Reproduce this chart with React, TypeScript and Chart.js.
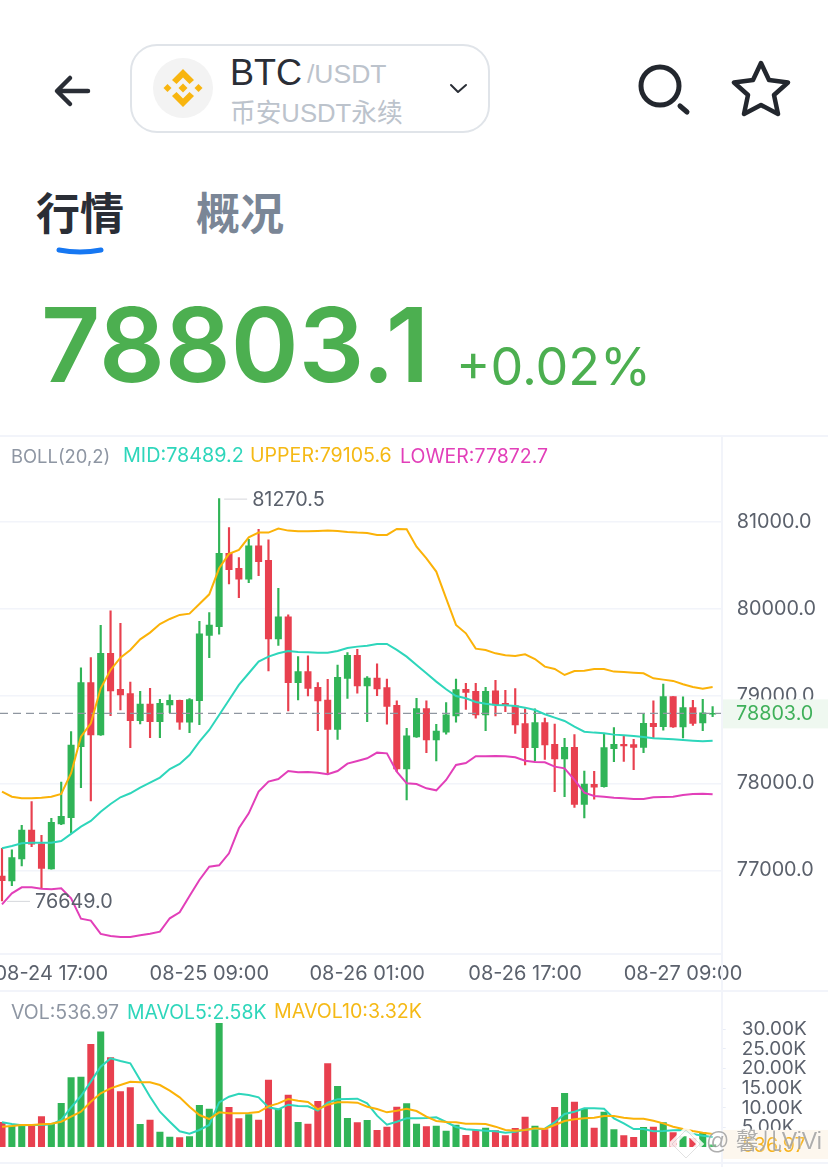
import React, { useEffect, useRef } from "react";
import { Chart, registerables } from "chart.js";

Chart.register(...registerables);

const FONT = "Inter,'Noto Sans CJK SC',sans-serif";
const CJK = "'Liberation Sans','Noto Sans CJK SC',sans-serif";
const UP = "#30b457";
const DOWN = "#e8404f";
const TEAL = "#2ed6bb";
const ORANGE = "#fbb208";
const MAGENTA = "#e23fb9";
const GRID = "#f2f4fa";
const AXIS_TEXT = "#5b616c";

const hourLabels = [
  "08-24 12:00","08-24 13:00","08-24 14:00","08-24 15:00","08-24 16:00","08-24 17:00","08-24 18:00","08-24 19:00","08-24 20:00","08-24 21:00","08-24 22:00","08-24 23:00",
  "08-25 00:00","08-25 01:00","08-25 02:00","08-25 03:00","08-25 04:00","08-25 05:00","08-25 06:00","08-25 07:00","08-25 08:00","08-25 09:00","08-25 10:00","08-25 11:00",
  "08-25 12:00","08-25 13:00","08-25 14:00","08-25 15:00","08-25 16:00","08-25 17:00","08-25 18:00","08-25 19:00","08-25 20:00","08-25 21:00","08-25 22:00","08-25 23:00",
  "08-26 00:00","08-26 01:00","08-26 02:00","08-26 03:00","08-26 04:00","08-26 05:00","08-26 06:00","08-26 07:00","08-26 08:00","08-26 09:00","08-26 10:00","08-26 11:00",
  "08-26 12:00","08-26 13:00","08-26 14:00","08-26 15:00","08-26 16:00","08-26 17:00","08-26 18:00","08-26 19:00","08-26 20:00","08-26 21:00","08-26 22:00","08-26 23:00",
  "08-27 00:00","08-27 01:00","08-27 02:00","08-27 03:00","08-27 04:00","08-27 05:00","08-27 06:00","08-27 07:00","08-27 08:00","08-27 09:00","08-27 10:00","08-27 11:00","08-27 12:00",
];
const labelledHours = ["08-24 17:00", "08-25 09:00", "08-26 01:00", "08-26 17:00", "08-27 09:00"];

const highs = [77253,77234,77517,77789,77402,77598,78015,78593,79325,79444,79815,79980,79838,79164,79057,79091,78965,79015,78957,78973,79861,79961,81270.5,80937,80593,80803,80918,80796,80240,79934,79455,79463,79156,79195,79359,79501,79539,79225,79371,79198,78946,78632,78976,78946,78678,78927,79198,79149,79149,79103,79183,79068,79087,78854,78854,78750,78681,78517,78559,78141,78138,78567,78639,78544,78505,78804,78946,79141,78995,78992,78953,78965,78881];
const opens = [76935,76878,77130,77463,77303,77015,77532,77605,78421,79156,78555,79493,79080,79030,78720,78911,78708,78900,78953,78701,78950,79700,79800,80642,80470,80344,80727,80562,79658,79911,79156,79283,79103,78957,78620,79206,79470,79118,79210,79099,78896,78164,78532,78858,78498,78586,78773,79080,79057,78785,79061,78919,78892,78685,78410,78697,78448,78279,78413,77758,77988,77961,78398,78448,78444,78413,78689,78651,78995,78647,78869,78693,78795];
const closes = [76881,77146,77463,77299,77023,77552,77621,78440,79156,78555,79493,79061,79015,78720,78911,78708,78919,78953,78701,78961,79716,79819,80642,80455,80344,80727,80547,79658,79911,79156,79283,79091,78946,78620,79218,79470,79118,79210,79084,78884,78164,78544,78858,78498,78601,78785,79076,79045,78785,79057,78900,78892,78670,78410,78697,78440,78279,78413,77758,77992,77954,78410,78448,78429,78413,78689,78651,78995,78647,78869,78689,78808,78803];
const lows = [76649,76824,77050,77272,76793,77012,77525,77433,77950,77797,78550,78777,78842,78410,78681,78524,78524,78812,78620,78582,78674,79444,79712,80290,80133,80305,80386,79290,79585,78831,78957,79003,78605,78115,78505,78976,79034,78708,79007,78678,78134,77808,78528,78352,78256,78563,78701,78850,78747,78605,78773,78823,78574,78210,78256,78275,77904,77846,77724,77601,77816,77954,78249,78252,78157,78352,78524,78609,78643,78521,78666,78605,78766];
const bollUpper = [77904,77846,77827,77827,77835,77846,77877,78115,78536,78689,79091,79302,79444,79532,79654,79731,79830,79888,79934,79949,80060,80171,80470,80635,80681,80826,80880,80880,80926,80903,80895,80895,80899,80903,80899,80888,80880,80876,80853,80853,80922,80918,80719,80585,80432,80125,79819,79723,79547,79532,79493,79470,79463,79482,79428,79340,79313,79244,79290,79294,79313,79313,79283,79279,79271,79264,79206,79191,79176,79137,79107,79087,79105.6];
const bollMid = [77253,77280,77310,77318,77318,77318,77337,77418,77502,77567,77674,77762,77839,77885,77950,78007,78065,78164,78222,78325,78478,78612,78785,78957,79130,79264,79398,79455,79493,79520,79509,79505,79501,79501,79520,79555,79570,79581,79601,79601,79532,79455,79359,79264,79168,79080,79003,78976,78934,78915,78900,78896,78888,78869,78842,78793,78754,78716,78651,78593,78582,78574,78559,78551,78544,78532,78517,78513,78505,78498,78490,78482,78489.2];
const bollLower = [76609,76736,76805,76805,76789,76782,76793,76678,76445,76422,76269,76246,76234,76234,76253,76272,76295,76449,76517,76705,76889,77042,77058,77195,77483,77655,77904,78019,78049,78141,78126,78130,78122,78103,78141,78226,78256,78287,78352,78344,78134,78000,77992,77942,77919,78038,78210,78233,78310,78310,78314,78310,78298,78260,78245,78241,78191,78172,78038,77892,77854,77846,77835,77827,77820,77820,77839,77843,77846,77866,77877,77881,77872.7];
const volumes = [6290,5355,5610,5780,7735,6035,11135,17680,17850,26180,29410,22780,14110,15130,5780,6885,3825,2550,2380,2635,10625,9690,31535,10115,7225,8245,6885,17085,9690,13260,6290,5865,11645,21250,15470,7310,6205,6800,4250,5100,10200,11050,5865,5185,5355,4080,5610,2975,4165,4845,4165,2890,4760,7650,5355,4420,10115,13685,11475,9605,4845,8925,4420,2890,2465,5015,5100,6205,3655,2635,2210,3655,536.97];
const mavol5 = [6290,5865,5525,5610,5610,5780,6885,10115,13005,16660,20485,22610,21930,21335,17085,12835,9010,6460,3995,3400,4335,5610,11390,12835,13600,13260,12665,10115,9605,10795,10455,10370,9265,11305,12155,12240,12325,11135,7990,5695,6460,7310,7310,7395,7565,6375,5100,4505,4335,4165,3995,3655,3910,4420,4590,4675,6290,8415,9010,9860,9860,9775,7310,6035,4590,4590,3995,4080,4250,4335,3315,2890,2580];
const mavol10 = [5185,5355,5610,5610,5780,5950,6460,7735,9010,11560,13685,14960,15810,16660,16490,16490,15810,14365,12665,10285,8160,7140,8840,8585,8585,8670,8925,10370,11135,12240,11815,11475,9605,10795,11390,11390,11305,10285,9690,8840,9265,9775,9180,7735,6630,6375,6290,5950,5950,5865,5185,4335,4165,4335,4760,4590,5610,6630,7055,7310,7480,7905,7905,7480,7225,7225,6715,6035,5185,4590,4080,3655,3320];
const priceTicks = [77000, 78000, 79000, 80000, 81000];
const volumeTicks = [5000, 10000, 15000, 20000, 25000, 30000];
const lastPrice = 78803;

const X_MIN = -0.2026;
const X_MAX = 72.92;
const xy = (arr: any[]) => arr.map((y, x) => ({ x, y }));
const dirColor = (i: number) => (closes[i] >= opens[i] ? UP : DOWN);
const candleColors = closes.map((_, i) => dirColor(i));

const lineSet = (data: number[], color: string, width = 2) => ({
  type: "line" as const,
  data: xy(data),
  borderColor: color,
  borderWidth: width,
  pointRadius: 0,
  tension: 0,
  order: 1,
});

const noPadding = (s: any) => { s.paddingTop = 0; s.paddingBottom = 0; s.paddingLeft = 0; s.paddingRight = 0; };
const fixedAxisWidth = (w: number) => (s: any) => { s.width = w; noPadding(s); };

function Txt({ x, y, size, color, weight, children, style }: any) {
  return (
    <div style={{ position: "absolute", left: x, top: y - size, height: size * 2, lineHeight: `${size * 2}px`, fontSize: size, color, fontWeight: weight ?? 400, whiteSpace: "nowrap", fontFamily: FONT, ...style }}>
      {children}
    </div>
  );
}

const pricePlugin = {
  id: "priceMarks",
  afterDraw(chart: any) {
    const { ctx, scales } = chart;
    const x = scales.x;
    const y = scales.y;
    ctx.save();
    const py = y.getPixelForValue(lastPrice);
    ctx.fillStyle = "#eff8f0";
    ctx.fillRect(723, py - 14, 105, 29);
    ctx.fillStyle = "#3fb05a";
    ctx.font = `19.8px ${FONT}`;
    ctx.textBaseline = "middle";
    ctx.textAlign = "left";
    ctx.fillText(lastPrice.toFixed(1), 736, py + 1);
    const maxVal = Math.max(...highs);
    const minVal = Math.min(...lows);
    const marks = [
      { v: maxVal, i: highs.indexOf(maxVal) },
      { v: minVal, i: lows.indexOf(minVal) },
    ];
    for (const m of marks) {
      const px = x.getPixelForValue(m.i);
      const my = y.getPixelForValue(m.v);
      ctx.strokeStyle = "#d5d7db";
      ctx.lineWidth = 1;
      ctx.beginPath();
      ctx.moveTo(px + 5, my + 0.5);
      ctx.lineTo(px + 28, my + 0.5);
      ctx.stroke();
      ctx.fillStyle = AXIS_TEXT;
      ctx.fillText(m.v.toFixed(1), px + 33, my + 1);
    }
    ctx.restore();
  },
};

const volumePlugin = {
  id: "volumeTag",
  afterDraw(chart: any) {
    const { ctx, scales } = chart;
    const v = volumes[volumes.length - 1];
    const py = scales.y.getPixelForValue(v);
    ctx.save();
    ctx.fillStyle = "#fdf7ee";
    ctx.fillRect(723, py - 15, 105, 29);
    ctx.fillStyle = "#f6b21c";
    ctx.font = `19.5px ${FONT}`;
    ctx.textBaseline = "middle";
    ctx.fillText(v.toFixed(2), 742, py + 1);
    ctx.restore();
  },
};

export default function App() {
  const priceRef = useRef<HTMLCanvasElement>(null);
  const volRef = useRef<HTMLCanvasElement>(null);

  useEffect(() => {
    const price = new Chart(priceRef.current as any, {
      type: "bar",
      data: {
        datasets: [
          { type: "bar", data: xy(highs.map((h, i) => [lows[i], h])), backgroundColor: candleColors, barThickness: 1.5, grouped: false, order: 4 },
          { type: "bar", data: xy(opens.map((o, i) => [o, closes[i]])), backgroundColor: candleColors, barThickness: 6.4, grouped: false, order: 3 },
          { type: "line", data: [{ x: X_MIN, y: lastPrice }, { x: X_MAX, y: lastPrice }], borderColor: "#8f96a0", borderWidth: 1.2, borderDash: [8, 5], pointRadius: 0, order: 2 },
          lineSet(bollUpper, ORANGE),
          lineSet(bollMid, TEAL),
          lineSet(bollLower, MAGENTA),
        ] as any,
      },
      options: {
        animation: false,
        responsive: false,
        layout: { autoPadding: false, padding: 0 },
        plugins: { legend: { display: false }, tooltip: { enabled: false } },
        scales: {
          x: {
            type: "linear",
            offset: false,
            min: X_MIN,
            max: X_MAX,
            afterFit: (s: any) => { s.height = 37; noPadding(s); },
            afterBuildTicks: (s: any) => { s.ticks = labelledHours.map((l) => ({ value: hourLabels.indexOf(l) })); },
            grid: { display: false },
            border: { display: false },
            ticks: { autoSkip: false, maxRotation: 0, padding: 1, color: AXIS_TEXT, font: { family: FONT, size: 20 }, callback: (v: any) => hourLabels[v] },
          },
          y: {
            position: "right",
            min: 76050,
            max: 81990,
            afterFit: fixedAxisWidth(106.3),
            afterBuildTicks: (s: any) => { s.ticks = priceTicks.map((value) => ({ value })); },
            grid: { color: GRID, lineWidth: 1.5, drawTicks: false },
            border: { display: false },
            ticks: { padding: 15, color: AXIS_TEXT, font: { family: FONT, size: 19.8 }, callback: (v: any) => Number(v).toFixed(1) },
          },
        },
      } as any,
      plugins: [pricePlugin],
    });

    const vol = new Chart(volRef.current as any, {
      type: "bar",
      data: {
        datasets: [
          { type: "bar", data: xy(volumes), backgroundColor: candleColors, barThickness: 6.4, grouped: false, order: 3 },
          lineSet(mavol10, ORANGE),
          lineSet(mavol5, TEAL),
        ] as any,
      },
      options: {
        animation: false,
        responsive: false,
        layout: { autoPadding: false, padding: { bottom: 16 } },
        plugins: { legend: { display: false }, tooltip: { enabled: false } },
        scales: {
          x: { type: "linear", offset: false, min: X_MIN, max: X_MAX, display: false, afterFit: noPadding },
          y: {
            position: "right",
            min: 0,
            max: 40050,
            afterFit: fixedAxisWidth(106.3),
            afterBuildTicks: (s: any) => { s.ticks = volumeTicks.map((value) => ({ value })); },
            grid: { color: "#e9edf6", drawOnChartArea: false, drawTicks: true, tickLength: 4 },
            border: { display: false },
            ticks: { padding: 16, color: AXIS_TEXT, font: { family: FONT, size: 19 }, callback: (v: any) => (Number(v) / 1000).toFixed(2) + "K" },
          },
        },
      } as any,
      plugins: [volumePlugin],
    });
    return () => {
      price.destroy();
      vol.destroy();
    };
  }, []);

  const hr = (top: number, width = 828) => (
    <div style={{ position: "absolute", left: 0, top, width, height: 2, background: GRID }} />
  );

  return (
    <div style={{ position: "absolute", left: 0, top: 0, width: 828, height: 1167, overflow: "hidden", background: "#fff", fontFamily: FONT }}>
      {/* header */}
      <svg style={{ position: "absolute", left: 0, top: 0 }} width={828} height={270}>
        <path d="M88 91 H58 M70 78 L57 91 L70 104" fill="none" stroke="#2a2e36" strokeWidth={4.5} strokeLinecap="round" strokeLinejoin="round" />
        <rect x={131} y={45} width={358} height={87} rx={26} fill="none" stroke="#e0e4e9" strokeWidth={2} />
        <circle cx={183} cy={88} r={30} fill="#f3f3f3" />
        <g fill="#f8b50f">
          <path d="M183 69 L194 80 L189.5 84 L183 77.5 L176.5 84 L172 80 Z" />
          <path d="M183 107 L194 96 L189.5 92 L183 98.5 L176.5 92 L172 96 Z" />
          <path d="M183 83.5 L187.5 88 L183 92.5 L178.500 88 Z" />
          <path d="M167.500 84 L171.500 88 L167.500 92 L163.500 88 Z" />
          <path d="M198.500 84 L202.500 88 L198.500 92 L194.500 88 Z" />
        </g>
        <path d="M451 85 L458 92 L466 85" fill="none" stroke="#2a2e36" strokeWidth={2} strokeLinecap="round" strokeLinejoin="round" />
        <circle cx={660} cy={86} r={19} fill="none" stroke="#23272e" strokeWidth={5} />
        <path d="M680 106 L687 112" stroke="#23272e" strokeWidth={5} strokeLinecap="round" />
        <path d="M761 63 L769 80 L788 82.500 L774 95 L778 114 L761 105 L744 114 L748 95 L734 82.500 L753 80 Z" fill="none" stroke="#23272e" strokeWidth={4.5} strokeLinejoin="round" />
        <path d="M59 250 Q80 254 101 250" fill="none" stroke="#1677f2" strokeWidth={5} strokeLinecap="round" />
      </svg>
      <Txt x={230} y={73} size={34} color="#2a2e36" style={{ fontFamily: CJK, fontSize: 36 }}>BTC</Txt>
      <Txt x={307} y={74} size={26} color="#bcc3cc" style={{ fontFamily: CJK, fontSize: 26.5 }}>/USDT</Txt>
      <Txt x={230} y={114} size={25.7} color="#bcc3cc" style={{ fontFamily: CJK }}>币安USDT永续</Txt>
      <Txt x={36} y={215} size={44} color="#2a2e36" weight={700} style={{ fontFamily: CJK }}>行情</Txt>
      <Txt x={196} y={215} size={44} color="#7a8696" weight={700} style={{ fontFamily: CJK }}>概况</Txt>
      <Txt x={41} y={345} size={103} color="#4caf50" weight={600}>78803.1</Txt>
      <Txt x={456} y={367} size={52} color="#4caf50" weight={400}>+0.02%</Txt>

      {/* charts */}
      <canvas ref={priceRef} width={828} height={554} style={{ position: "absolute", left: 0, top: 436 }} />
      <canvas ref={volRef} width={828} height={173} style={{ position: "absolute", left: 0, top: 990 }} />
      {hr(435)}
      {hr(953, 722)}
      {hr(990)}
      {hr(1162)}
      <div style={{ position: "absolute", left: 721, top: 436, width: 2, height: 731, background: GRID }} />

      {/* legends */}
      <Txt x={11} y={456} size={18.4} color="#8e96a3">BOLL(20,2)</Txt>
      <Txt x={123} y={456} size={19.8} color={TEAL}>MID:78489.2</Txt>
      <Txt x={250} y={456} size={19.6} color="#f5b915">UPPER:79105.6</Txt>
      <Txt x={400} y={456} size={19.5} color={MAGENTA}>LOWER:77872.7</Txt>
      <Txt x={11} y={1012} size={19.5} color="#8e96a3">VOL:536.97</Txt>
      <Txt x={127} y={1012} size={19.4} color={TEAL}>MAVOL5:2.58K</Txt>
      <Txt x={274} y={1012} size={19.6} color="#f5b915">MAVOL10:3.32K</Txt>

      {/* watermark */}
      <svg style={{ position: "absolute", left: 670, top: 1124 }} width={40} height={40}>
        <path d="M16 6 L30 20 L16 34 L2 20 Z" fill="none" stroke="rgba(255,255,255,0.85)" strokeWidth={6} />
        <path d="M16 6 L30 20 L16 34 L2 20 Z" fill="none" stroke="rgba(170,170,170,0.35)" strokeWidth={1} />
      </svg>
      <Txt x={706} y={1141} size={23} color="rgba(130,130,130,0.65)" style={{ textShadow: "0 0 2px #fff", fontFamily: CJK }}>@ 馨儿ViVi</Txt>
    </div>
  );
}
